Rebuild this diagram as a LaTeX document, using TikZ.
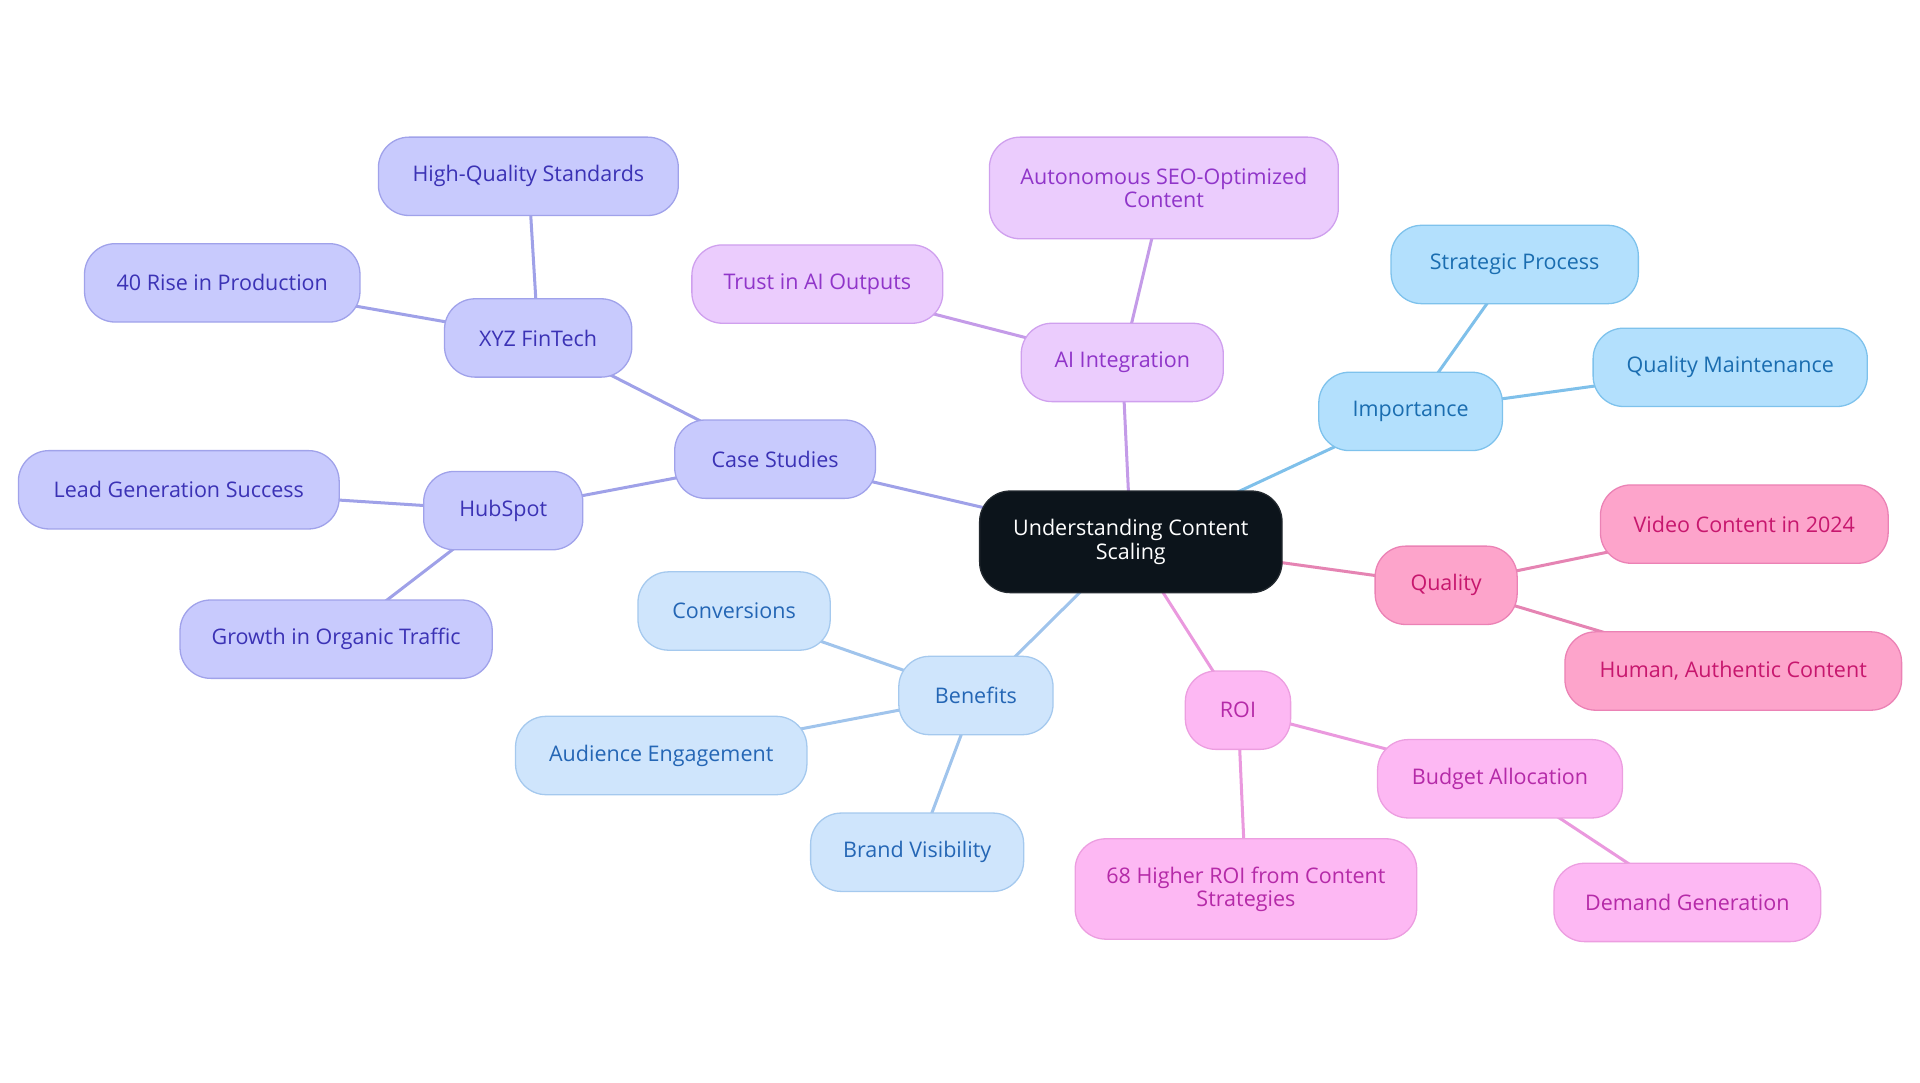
\documentclass[tikz,border=0pt]{standalone}
\usepackage{fontspec}
\setmainfont{Open Sans}
\usetikzlibrary{backgrounds}
\definecolor{rootfill}{HTML}{0C141B}
\definecolor{csfill}{HTML}{C8CAFD}\definecolor{csdraw}{HTML}{A0A2EA}\definecolor{cstext}{HTML}{3B32B5}\definecolor{csline}{HTML}{9FA1E8}
\definecolor{aifill}{HTML}{EBCCFD}\definecolor{aidraw}{HTML}{CFA0EE}\definecolor{aitext}{HTML}{9035C9}\definecolor{ailine}{HTML}{C49BE8}
\definecolor{imfill}{HTML}{B3E0FD}\definecolor{imdraw}{HTML}{7EC2EC}\definecolor{imtext}{HTML}{1A6DB0}\definecolor{imline}{HTML}{7FC0EA}
\definecolor{qufill}{HTML}{FDA4CB}\definecolor{qudraw}{HTML}{EB82B5}\definecolor{qutext}{HTML}{C7176E}\definecolor{quline}{HTML}{E584B3}
\definecolor{rofill}{HTML}{FDB8F3}\definecolor{rodraw}{HTML}{EC9EE0}\definecolor{rotext}{HTML}{B52AA8}\definecolor{roline}{HTML}{EA99DE}
\definecolor{befill}{HTML}{CFE5FC}\definecolor{bedraw}{HTML}{A5C9EE}\definecolor{betext}{HTML}{2466B5}\definecolor{beline}{HTML}{A0C4EC}
\tikzset{
  box/.style={rounded corners=0.5cm, minimum height=1.28cm, inner sep=2pt, align=center, font=\fontsize{10}{10.8}\selectfont, line width=0.6pt},
  rootbox/.style={box, fill=rootfill, draw=rootfill!80!gray, text=white, minimum height=1.66cm},
  csbox/.style={box, fill=csfill, draw=csdraw, text=cstext},
  aibox/.style={box, fill=aifill, draw=aidraw, text=aitext},
  imbox/.style={box, fill=imfill, draw=imdraw, text=imtext},
  qubox/.style={box, fill=qufill, draw=qudraw, text=qutext},
  robox/.style={box, fill=rofill, draw=rodraw, text=rotext},
  bebox/.style={box, fill=befill, draw=bedraw, text=betext},
  link/.style={line width=1.4pt},
}
\begin{document}
\begin{tikzpicture}[x=0.02cm,y=-0.02cm]
\path[use as bounding box] (0,0) rectangle (1568,884);
% root
\node[rootbox, minimum width=4.94cm] (root) at (923.5,442.5) {Understanding Content\\Scaling};
% case studies branch
\node[csbox, minimum width=3.28cm] (cs) at (633,375) {Case Studies};
\node[csbox, minimum width=3.06cm] (xyz) at (439.5,276) {XYZ FinTech};
\node[csbox, minimum width=4.9cm] (hqs) at (431.5,144) {High-Quality Standards};
\node[csbox, minimum width=4.5cm] (rise) at (181.5,231) {40 Rise in Production};
\node[csbox, minimum width=2.6cm] (hub) at (411,417) {HubSpot};
\node[csbox, minimum width=5.24cm] (lead) at (146,400) {Lead Generation Success};
\node[csbox, minimum width=5.1cm] (growth) at (274.5,522) {Growth in Organic Traffic};
% AI branch
\node[aibox, minimum width=3.3cm] (ai) at (916.5,296) {AI Integration};
\node[aibox, minimum width=4.1cm] (trust) at (667.5,232) {Trust in AI Outputs};
\node[aibox, minimum width=5.7cm, minimum height=1.66cm] (auto) at (950.5,153.5) {Autonomous SEO-Optimized\\Content};
% importance
\node[imbox, minimum width=3.0cm] (imp) at (1152,336) {Importance};
\node[imbox, minimum width=4.04cm] (strat) at (1237,216) {Strategic Process};
\node[imbox, minimum width=4.48cm] (qm) at (1413,300) {Quality Maintenance};
% quality
\node[qubox, minimum width=2.32cm] (qual) at (1181,478) {Quality};
\node[qubox, minimum width=4.7cm] (video) at (1424.5,428) {Video Content in 2024};
\node[qubox, minimum width=5.5cm] (human) at (1415.5,548) {Human, Authentic Content};
% ROI
\node[robox, minimum width=1.72cm] (roi) at (1011,580) {ROI};
\node[robox, minimum width=4.0cm] (budget) at (1225,636) {Budget Allocation};
\node[robox, minimum width=4.36cm] (demand) at (1378,737) {Demand Generation};
\node[robox, minimum width=5.58cm, minimum height=1.64cm] (higher) at (1017.5,726) {68 Higher ROI from Content\\Strategies};
% benefits
\node[bebox, minimum width=2.52cm] (ben) at (797,568) {Benefits};
\node[bebox, minimum width=3.14cm] (conv) at (599.5,499) {Conversions};
\node[bebox, minimum width=4.76cm] (aud) at (540,617) {Audience Engagement};
\node[bebox, minimum width=3.48cm] (brand) at (749,696) {Brand Visibility};
\begin{scope}[on background layer]
\draw[link, csline] (root.center) -- (cs.center);
\draw[link, csline] (cs.center) -- (xyz.center);
\draw[link, csline] (xyz.center) -- (hqs.center);
\draw[link, csline] (xyz.center) -- (rise.center);
\draw[link, csline] (cs.center) -- (hub.center);
\draw[link, csline] (hub.center) -- (lead.center);
\draw[link, csline] (hub.center) -- (growth.center);
\draw[link, ailine] (root.center) -- (ai.center);
\draw[link, ailine] (ai.center) -- (trust.center);
\draw[link, ailine] (ai.center) -- (auto.center);
\draw[link, imline] (root.center) -- (imp.center);
\draw[link, imline] (imp.center) -- (strat.center);
\draw[link, imline] (imp.center) -- (qm.center);
\draw[link, quline] (root.center) -- (qual.center);
\draw[link, quline] (qual.center) -- (video.center);
\draw[link, quline] (qual.center) -- (human.center);
\draw[link, roline] (root.center) -- (roi.center);
\draw[link, roline] (roi.center) -- (budget.center);
\draw[link, roline] (budget.center) -- (demand.center);
\draw[link, roline] (roi.center) -- (higher.center);
\draw[link, beline] (root.center) -- (ben.center);
\draw[link, beline] (ben.center) -- (conv.center);
\draw[link, beline] (ben.center) -- (aud.center);
\draw[link, beline] (ben.center) -- (brand.center);
\end{scope}
\end{tikzpicture}
\end{document}
